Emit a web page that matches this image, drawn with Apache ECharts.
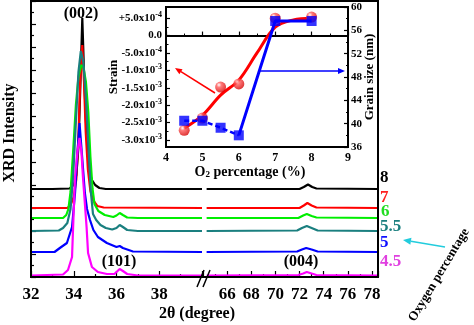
<!DOCTYPE html>
<html><head><meta charset="utf-8">
<script src="https://cdn.jsdelivr.net/npm/echarts@6/dist/echarts.min.js"></script>
<style>html,body{margin:0;padding:0;background:#fff}#c{width:474px;height:325px}</style>
</head><body><div id="c"></div>
<script>
// ---------- DATA ----------
// XRD patterns: [2theta (deg), intensity (a.u., stacked)]; left segment 32-40, right segment 64-78.5
const xrd8Left = [[32,88],[33.0,88],[33.8,88.5],[34.0,92],[34.12,102],[34.22,130],[34.3,185],[34.4,259],[34.48,205],[34.56,160],[34.65,125],[34.75,104],[34.85,97],[35.0,92],[35.2,89],[35.5,88],[40,88]];
const xrd7Left = [[32,69],[33.7,69],[33.85,72],[34.0,80],[34.12,98],[34.22,140],[34.3,195],[34.4,232],[34.48,195],[34.56,145],[34.66,108],[34.78,86],[34.9,77],[35.1,71],[35.4,69.5],[40,69]];
const xrd6Left = [[32,59],[33.5,59],[33.65,62],[33.75,68],[33.85,85],[33.97,125],[34.1,172],[34.22,200],[34.35,212],[34.45,210],[34.57,195],[34.68,165],[34.78,120],[34.88,88],[34.97,73],[35.15,66],[35.45,62],[35.85,60],[36.0,61.5],[36.15,64],[36.3,62],[36.5,59.5],[37,59],[40,59]];
const xrd55Left = [[32,46],[33.3,46.5],[33.5,49],[33.7,54],[33.85,68],[33.97,100],[34.1,155],[34.22,205],[34.33,226],[34.45,215],[34.58,175],[34.7,125],[34.8,85],[34.9,63],[35.05,57],[35.25,52],[35.5,49],[35.8,47.5],[36.0,49],[36.15,52],[36.3,50],[36.5,47],[37,46],[40,46]];
const xrd5Left = [[32,25],[33.1,25],[33.35,29],[33.68,34],[33.92,50],[34.06,84],[34.15,117],[34.27,154],[34.4,118],[34.52,84],[34.62,68],[34.76,57],[34.92,47],[35.13,40],[35.55,34],[36.0,30],[36.15,31],[36.3,29],[36.77,25.5],[40,25]];
const xrd45Left = [[32,1.5],[33.5,2.5],[33.73,7],[33.92,20],[33.97,50],[34.06,100],[34.17,125],[34.27,139],[34.36,125],[34.43,100],[34.6,50],[34.67,24],[34.85,10],[35.13,5],[35.55,3],[35.9,3],[36.05,6],[36.15,8],[36.3,6],[36.5,3],[37,1.5],[40,1.5]];

const xrd8Right = [[64.3,88],[72.0,88],[72.35,90],[72.7,92.5],[73.05,90],[73.4,88.5],[78.5,88]];
const xrd7Right = [[64.3,69],[72.0,69],[72.35,71.5],[72.65,74],[73.0,71.5],[73.4,69.5],[78.5,69]];
const xrd6Right = [[64.3,59],[71.9,59],[72.3,61.5],[72.6,63],[73.0,61],[73.4,59.5],[78.5,59]];
const xrd55Right = [[64.3,46],[71.8,46.5],[72.2,49],[72.6,51],[73.0,49],[73.5,46.5],[78.5,46]];
const xrd5Right = [[64.3,25],[71.8,25.5],[72.2,27.5],[72.55,29],[73.0,27.5],[73.5,25.5],[78.5,25]];
const xrd45Right = [[64.3,1.5],[71.9,2],[72.3,3.5],[72.6,5],[73.0,3.5],[73.4,2],[78.5,1.5]];

const oxygenLabels = ['8','7','6','5.5','5','4.5'];

// Inset
const o2Pct = [4.5, 5, 5.5, 6, 7, 8];
const strain = [-2.72e-3, -2.37e-3, -1.48e-3, -1.39e-3, 5.0e-4, 5.3e-4];
const strainFitX = [4.5, 5, 5.5, 6, 6.5, 7, 7.5, 8];
const strainFit = [-2.66e-3, -2.29e-3, -1.71e-3, -1.28e-3, -5.0e-4, 2.4e-4, 4.5e-4, 5.0e-4];
const grainSize = [40.5, 40.5, 39.3, 38.0, 57.6, 57.6];
const strainTicks = [5e-4, 0, -5e-4, -1e-3, -1.5e-3, -2e-3, -2.5e-3, -3e-3];
const strainTickText = [['+5.0x10','-4'],['0.0',''],['-5.0x10','-4'],['-1.0x10','-3'],['-1.5x10','-3'],['-2.0x10','-3'],['-2.5x10','-3'],['-3.0x10','-3']];
const strainMinorTicks = [2.5e-4, -2.5e-4, -7.5e-4, -1.25e-3, -1.75e-3, -2.25e-3, -2.75e-3];

// ---------- STYLE ----------
const SERIF = '"Liberation Serif","Times New Roman",serif';
const colors = ['#000000', '#ff0000', '#00ee00', '#1a7f7f', '#0000ff', '#ff00ff'];
const labelColors = ['#000000', '#ff2020', '#22dd22', '#1a7f7f', '#1010ff', '#e040e0'];
const labelOffsets = [[0,-11],[0,-10],[1,-6],[0,-4],[0,-9],[0,-14]];

const chart = echarts.init(document.getElementById('c'), null, {renderer: 'canvas'});

const leftSets = [xrd8Left, xrd7Left, xrd6Left, xrd55Left, xrd5Left, xrd45Left];
const rightSets = [xrd8Right, xrd7Right, xrd6Right, xrd55Right, xrd5Right, xrd45Right];

const series = [];
leftSets.forEach((d, i) => {
  series.push({type:'line', xAxisIndex:0, yAxisIndex:0, data:d, showSymbol:false, symbol:'none',
    lineStyle:{color:colors[i], width:2.2}, itemStyle:{color:colors[i]}, silent:true, z:2+i});
});
rightSets.forEach((d, i) => {
  series.push({type:'line', xAxisIndex:1, yAxisIndex:1, data:d, showSymbol:false, symbol:'none',
    lineStyle:{color:colors[i], width:2.2}, itemStyle:{color:colors[i]}, silent:true, z:2+i,
    endLabel:{show:true, formatter:oxygenLabels[i], color:labelColors[i], fontFamily:SERIF, fontWeight:'bold',
      fontSize:17, distance:2, offset:labelOffsets[i]}});
});

const zip = (a, b) => a.map((v, i) => [v, b[i]]);
series.push({type:'line', xAxisIndex:2, yAxisIndex:2, data:zip(strainFitX, strainFit), smooth:0.35,
  showSymbol:false, symbol:'none', lineStyle:{color:'#ff0000', width:3}, silent:true, z:10});
series.push({type:'scatter', xAxisIndex:2, yAxisIndex:2, data:zip(o2Pct, strain), symbolSize:11, silent:true, z:11,
  itemStyle:{color:{type:'radial', x:0.35, y:0.3, r:0.75, colorStops:[{offset:0,color:'#ffffff'},{offset:0.3,color:'#ff5a5a'},{offset:1,color:'#d40000'}]}}});
series.push({type:'line', xAxisIndex:2, yAxisIndex:4, data:zip(o2Pct.slice(0,4), grainSize.slice(0,4)),
  showSymbol:false, symbol:'none', lineStyle:{color:'#0000ff', width:2.5, type:[5,3]}, silent:true, z:12});
series.push({type:'line', xAxisIndex:2, yAxisIndex:4, data:zip(o2Pct.slice(3), grainSize.slice(3)),
  showSymbol:false, symbol:'none', lineStyle:{color:'#0000ff', width:3}, silent:true, z:12});
series.push({type:'scatter', xAxisIndex:2, yAxisIndex:4, data:zip(o2Pct, grainSize), symbol:'rect', symbolSize:10,
  itemStyle:{color:'#0000ff'}, silent:true, z:13});

const blackLine = {show:true, lineStyle:{color:'#000', width:1.5}};
const bold = (s) => ({fontFamily:SERIF, fontWeight:'bold', fontSize:s, color:'#000'});

function arrow(x1, y1, x2, y2, color, w, hl, hw) {
  const a = Math.atan2(y2 - y1, x2 - x1);
  const bx = x2 - hl * Math.cos(a), by = y2 - hl * Math.sin(a);
  const px = -Math.sin(a) * hw, py = Math.cos(a) * hw;
  return [
    {type:'line', shape:{x1:x1, y1:y1, x2:bx, y2:by}, style:{stroke:color, lineWidth:w}, z:50},
    {type:'polygon', shape:{points:[[x2,y2],[bx+px,by+py],[bx-px,by-py]]}, style:{fill:color}, z:50}
  ];
}
const txt = (x, y, t, size, color, rot) => ({type:'text', x:x, y:y, rotation:rot || 0, z:60,
  style:{text:t, fill:color || '#000', font:'bold ' + size + 'px ' + SERIF, textAlign:'center', textVerticalAlign:'middle'}});

const option = {
  animation:false,
  backgroundColor:'#fff',
  grid:[
    {left:31, top:1, width:171, height:276, outerBoundsMode:'none'},
    {left:203, top:1, width:175, height:276, outerBoundsMode:'none'},
    {left:166, top:7, width:182, height:140, show:true, borderColor:'#000', borderWidth:2, backgroundColor:'#fff', outerBoundsMode:'none'}
  ],
  xAxis:[
    {gridIndex:0, type:'value', min:32, max:40, interval:2, axisLine:blackLine,
      axisTick:{inside:true, length:6, lineStyle:{color:'#000', width:1.2}},
      minorTick:{show:true, splitNumber:2, length:3, lineStyle:{color:'#000', width:1.2}},
      axisLabel:Object.assign(bold(17), {margin:9, showMaxLabel:false}), splitLine:{show:false}, minorSplitLine:{show:false}},
    {gridIndex:1, type:'value', min:64, max:78.5, interval:2, axisLine:blackLine,
      axisTick:{inside:true, length:6, lineStyle:{color:'#000', width:1.2}},
      minorTick:{show:true, splitNumber:2, length:3, lineStyle:{color:'#000', width:1.2}},
      axisLabel:Object.assign(bold(17), {margin:9, showMinLabel:false, showMaxLabel:false}), splitLine:{show:false}, minorSplitLine:{show:false}},
    {gridIndex:2, type:'value', min:4, max:9, interval:1, axisLine:{show:true, lineStyle:{color:'#000', width:2}},
      axisTick:{inside:true, length:4, lineStyle:{color:'#000', width:1.2}},
      minorTick:{show:true, splitNumber:2, length:2, lineStyle:{color:'#000', width:1}},
      axisLabel:Object.assign(bold(12), {margin:5}), splitLine:{show:false}, minorSplitLine:{show:false},
      name:'{a|O}{s|2}{a| percentage (%)}', nameLocation:'middle', nameGap:18, nameMoveOverlap:false,
      nameTextStyle:{padding:[0,14,0,0], rich:{a:bold(14), s:Object.assign(bold(9), {verticalAlign:'bottom'})}}}
  ],
  yAxis:[
    {gridIndex:0, type:'value', min:0, max:276, interval:23, axisLine:blackLine,
      axisTick:{inside:true, length:5, lineStyle:{color:'#000', width:1.2}},
      minorTick:{show:true, splitNumber:2, length:3, lineStyle:{color:'#000', width:1.2}},
      axisLabel:{show:false}, splitLine:{show:false}, minorSplitLine:{show:false}},
    {gridIndex:1, type:'value', min:0, max:276, show:false, splitLine:{show:false}},
    {gridIndex:2, type:'value', position:'left', min:-0.0032, max:0.00082,
      axisLine:{show:true, lineStyle:{color:'#000', width:2}},
      axisTick:{show:true, inside:true, length:4, customValues:strainTicks, lineStyle:{color:'#000', width:1.2}},
      axisLabel:{customValues:strainTicks, margin:4,
        formatter:function(v){
          const i = strainTicks.findIndex(t => Math.abs(t - v) < 1e-7);
          if (i < 0) return '';
          const p = strainTickText[i];
          return p[1] ? '{b|' + p[0] + '}{s|' + p[1] + '}' : '{b|' + p[0] + '}';
        },
        rich:{b:Object.assign(bold(11), {lineHeight:14}), s:Object.assign(bold(8), {verticalAlign:'top', lineHeight:9})}},
      splitLine:{show:false},
      name:'Strain', nameLocation:'middle', nameRotate:90, nameGap:46, nameMoveOverlap:false, nameTextStyle:bold(13)},
    {gridIndex:2, type:'value', position:'left', min:-0.0032, max:0.00082, axisLine:{show:false},
      axisTick:{show:true, inside:true, length:2.5, customValues:strainMinorTicks, lineStyle:{color:'#000', width:1}},
      axisLabel:{show:false}, splitLine:{show:false}},
    {gridIndex:2, type:'value', position:'right', min:36, max:60, interval:4,
      axisLine:{show:true, lineStyle:{color:'#000', width:2}},
      axisTick:{inside:true, length:4, lineStyle:{color:'#000', width:1.2}},
      minorTick:{show:true, splitNumber:2, length:2, lineStyle:{color:'#000', width:1}},
      axisLabel:Object.assign(bold(11), {margin:3}), splitLine:{show:false}, minorSplitLine:{show:false},
      name:'Grain size (nm)', nameLocation:'middle', nameRotate:90, nameGap:15, nameMoveOverlap:false, nameTextStyle:bold(13)}
  ],
  series:series,
  graphic:[
    {type:'rect', shape:{x:31, y:1, width:347, height:276}, style:{fill:'none', stroke:'#000', lineWidth:2}, z:40, silent:true},
    {type:'line', shape:{x1:197, y1:287, x2:204, y2:270}, style:{stroke:'#000', lineWidth:1.5}, z:45},
    {type:'line', shape:{x1:203, y1:287, x2:210, y2:270}, style:{stroke:'#000', lineWidth:1.5}, z:45},
    ...arrow(215, 93, 175, 68, '#ff0000', 1.5, 7, 3),
    ...arrow(260, 71, 345, 71, '#0000ff', 1.5, 7, 3),
    ...arrow(445, 247, 403, 240, '#22ccdd', 1.5, 8, 3.5),
    txt(81, 14, '(002)', 16),
    txt(119, 262, '(101)', 16),
    txt(301, 262, '(004)', 16),
    txt(197, 314, '2θ (degree)', 16),
    txt(10, 133, 'XRD Intensity', 16, '#000', Math.PI / 2),
    txt(439, 275, 'Oxygen percentage', 13, '#000', 59 * Math.PI / 180)
  ]
};
chart.setOption(option);
</script></body></html>
